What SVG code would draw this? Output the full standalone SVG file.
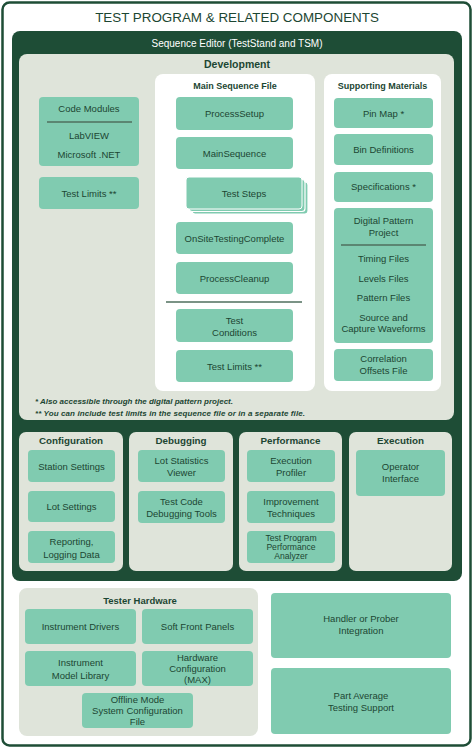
<svg xmlns="http://www.w3.org/2000/svg" width="474" height="750" viewBox="0 0 474 750">
<defs>
<style>
text{font-family:"Liberation Sans",Arial,sans-serif;fill:#1c4632;text-anchor:middle}
.t{font-size:9.5px}
.h{font-size:9.5px;font-weight:bold}
.box{fill:#80cbb0}
.panel{fill:#dfe4da}
.white{fill:#ffffff}
.sep{stroke:#4f6f5e;stroke-width:1.5}
.fn{font-size:8px;font-weight:bold;font-style:italic;text-anchor:start}
</style>
</defs>
<rect x="0" y="0" width="474" height="750" fill="#ffffff"/>
<g id="frame">
<rect x="2.5" y="2.5" width="468" height="743" rx="7" fill="#ffffff" stroke="#1e4d36" stroke-width="2.5"/>
<text x="237" y="22" style="font-size:13.4px">TEST PROGRAM &amp; RELATED COMPONENTS</text>
</g>
<g id="sequence-editor">
<rect x="12" y="31" width="450" height="550" rx="8" fill="#1e4d36"/>
<text x="237" y="46.5" style="font-size:10px;fill:#ffffff">Sequence Editor (TestStand and TSM)</text>
</g>
<g id="development">
<rect class="panel" x="19" y="54" width="435" height="366" rx="8"/>
<text class="h" x="237" y="68" style="font-size:10.5px">Development</text>
<text class="fn" x="35" y="404">* Also accessible through the digital pattern project.</text>
<text class="fn" x="35" y="416" textLength="270" lengthAdjust="spacing">** You can include test limits in the sequence file or in a separate file.</text>
</g>
<g id="code-modules">
<rect class="box" x="39" y="97" width="100" height="69" rx="4"/>
<text class="t" x="89" y="112">Code Modules</text>
<line class="sep" x1="47" y1="122" x2="132" y2="122"/>
<text class="t" x="89" y="139">LabVIEW</text>
<text class="t" x="89" y="158">Microsoft .NET</text>
</g>
<g id="test-limits-dev">
<rect class="box" x="39" y="177" width="100" height="32" rx="4"/>
<text class="t" x="89" y="196.5">Test Limits **</text>
</g>
<g id="main-sequence-file">
<rect class="white" x="155" y="74" width="160" height="317" rx="8"/>
<text class="h" x="235" y="89" style="font-size:9px">Main Sequence File</text>
<line class="sep" x1="166" y1="302" x2="302" y2="302"/>
</g>
<g id="process-setup">
<rect class="box" x="176" y="97" width="117" height="33" rx="4"/>
<text class="t" x="234.5" y="116.5">ProcessSetup</text>
</g>
<g id="main-sequence">
<rect class="box" x="176" y="137" width="117" height="32" rx="4"/>
<text class="t" x="234.5" y="156.5">MainSequence</text>
</g>
<g id="test-steps">
<rect class="box" x="192" y="182" width="116" height="32" rx="3" stroke="#ffffff" stroke-width="1.2"/>
<rect class="box" x="189" y="179.5" width="116" height="32" rx="3" stroke="#ffffff" stroke-width="1.2"/>
<rect class="box" x="186" y="177" width="116" height="32" rx="3" stroke="#ffffff" stroke-width="1"/>
<text class="t" x="244" y="196.5">Test Steps</text>
</g>
<g id="onsite-testing-complete">
<rect class="box" x="176" y="222" width="117" height="32" rx="4"/>
<text class="t" x="234.5" y="241.5">OnSiteTestingComplete</text>
</g>
<g id="process-cleanup">
<rect class="box" x="176" y="262" width="117" height="32" rx="4"/>
<text class="t" x="234.5" y="281.5">ProcessCleanup</text>
</g>
<g id="test-conditions">
<rect class="box" x="176" y="309" width="117" height="33" rx="4"/>
<text class="t" x="234.5" y="323.5">Test</text>
<text class="t" x="234.5" y="335.5">Conditions</text>
</g>
<g id="test-limits-seq">
<rect class="box" x="176" y="350" width="117" height="32" rx="4"/>
<text class="t" x="234.5" y="369.5">Test Limits **</text>
</g>
<g id="supporting-materials">
<rect class="white" x="324" y="74" width="117" height="317" rx="8"/>
<text class="h" x="382.5" y="89" style="font-size:9px">Supporting Materials</text>
</g>
<g id="pin-map">
<rect class="box" x="334" y="98" width="99" height="30" rx="4"/>
<text class="t" x="383.5" y="116.5">Pin Map *</text>
</g>
<g id="bin-definitions">
<rect class="box" x="334" y="134" width="99" height="31" rx="4"/>
<text class="t" x="383.5" y="152.5">Bin Definitions</text>
</g>
<g id="specifications">
<rect class="box" x="334" y="172" width="99" height="30" rx="4"/>
<text class="t" x="383.5" y="189.5">Specifications *</text>
</g>
<g id="digital-pattern-project">
<rect class="box" x="334" y="208" width="99" height="135" rx="4"/>
<text class="t" x="383.5" y="223.5">Digital Pattern</text>
<text class="t" x="383.5" y="235.5">Project</text>
<line class="sep" x1="341" y1="245" x2="426" y2="245"/>
<text class="t" x="383.5" y="261.5">Timing Files</text>
<text class="t" x="383.5" y="281.5">Levels Files</text>
<text class="t" x="383.5" y="300.5">Pattern Files</text>
<text class="t" x="383.5" y="320.5">Source and</text>
<text class="t" x="383.5" y="331.5">Capture Waveforms</text>
</g>
<g id="correlation-offsets">
<rect class="box" x="334" y="349" width="99" height="32" rx="4"/>
<text class="t" x="383.5" y="361.5">Correlation</text>
<text class="t" x="383.5" y="373.5">Offsets File</text>
</g>
<g id="configuration">
<rect class="panel" x="19" y="432" width="104" height="139" rx="7"/>
<text class="h" x="71" y="443.5" style="font-size:9.8px">Configuration</text>
</g>
<g id="station-settings">
<rect class="box" x="28" y="450" width="87" height="32" rx="4"/>
<text class="t" x="71.5" y="469.5">Station Settings</text>
</g>
<g id="lot-settings">
<rect class="box" x="28" y="491" width="87" height="31" rx="4"/>
<text class="t" x="71.5" y="510">Lot Settings</text>
</g>
<g id="reporting-logging">
<rect class="box" x="28" y="531" width="87" height="32" rx="4"/>
<text class="t" x="71.5" y="544.5">Reporting,</text>
<text class="t" x="71.5" y="558">Logging Data</text>
</g>
<g id="debugging">
<rect class="panel" x="129" y="432" width="104" height="139" rx="7"/>
<text class="h" x="181" y="443.5" style="font-size:9.8px">Debugging</text>
</g>
<g id="lot-statistics-viewer">
<rect class="box" x="138" y="450" width="87" height="32" rx="4"/>
<text class="t" x="181.5" y="463.5">Lot Statistics</text>
<text class="t" x="181.5" y="475.5">Viewer</text>
</g>
<g id="test-code-debugging">
<rect class="box" x="138" y="491" width="87" height="32" rx="4"/>
<text class="t" x="181.5" y="504.5">Test Code</text>
<text class="t" x="181.5" y="516.5">Debugging Tools</text>
</g>
<g id="performance">
<rect class="panel" x="239" y="432" width="103" height="139" rx="7"/>
<text class="h" x="290.5" y="443.5" style="font-size:9.8px">Performance</text>
</g>
<g id="execution-profiler">
<rect class="box" x="247" y="450" width="88" height="32" rx="4"/>
<text class="t" x="291" y="463.5">Execution</text>
<text class="t" x="291" y="475.5">Profiler</text>
</g>
<g id="improvement-techniques">
<rect class="box" x="247" y="491" width="88" height="32" rx="4"/>
<text class="t" x="291" y="504.5">Improvement</text>
<text class="t" x="291" y="516.5">Techniques</text>
</g>
<g id="performance-analyzer">
<rect class="box" x="247" y="531" width="88" height="32" rx="4"/>
<text class="t" x="291" y="540.8" style="font-size:8.6px">Test Program</text>
<text class="t" x="291" y="550.1" style="font-size:8.6px">Performance</text>
<text class="t" x="291" y="559.4" style="font-size:8.6px">Analyzer</text>
</g>
<g id="execution">
<rect class="panel" x="349" y="432" width="103" height="139" rx="7"/>
<text class="h" x="400.5" y="443.5" style="font-size:9.8px">Execution</text>
</g>
<g id="operator-interface">
<rect class="box" x="356" y="450" width="89" height="46" rx="4"/>
<text class="t" x="400.5" y="469.5">Operator</text>
<text class="t" x="400.5" y="481.5">Interface</text>
</g>
<g id="tester-hardware">
<rect class="panel" x="19" y="588" width="239" height="148" rx="8"/>
<text class="h" x="140" y="603.5">Tester Hardware</text>
</g>
<g id="instrument-drivers">
<rect class="box" x="25" y="609" width="111" height="35" rx="4"/>
<text class="t" x="80.5" y="629.5">Instrument Drivers</text>
</g>
<g id="soft-front-panels">
<rect class="box" x="142" y="609" width="111" height="35" rx="4"/>
<text class="t" x="197.5" y="629.5">Soft Front Panels</text>
</g>
<g id="instrument-model-library">
<rect class="box" x="25" y="651" width="111" height="35" rx="4"/>
<text class="t" x="80.5" y="665.5">Instrument</text>
<text class="t" x="80.5" y="678.5">Model Library</text>
</g>
<g id="hardware-configuration">
<rect class="box" x="142" y="651" width="111" height="35" rx="4"/>
<text class="t" x="197.5" y="660.5">Hardware</text>
<text class="t" x="197.5" y="671.5">Configuration</text>
<text class="t" x="197.5" y="682.5">(MAX)</text>
</g>
<g id="offline-mode">
<rect class="box" x="82" y="693" width="111" height="35" rx="4"/>
<text class="t" x="137.5" y="702.5">Offline Mode</text>
<text class="t" x="137.5" y="713.5">System Configuration</text>
<text class="t" x="137.5" y="725">File</text>
</g>
<g id="handler-prober">
<rect class="box" x="271" y="593" width="180" height="65" rx="4"/>
<text class="t" x="361" y="621.5">Handler or Prober</text>
<text class="t" x="361" y="634">Integration</text>
</g>
<g id="part-average-testing">
<rect class="box" x="271" y="668" width="180" height="66" rx="4"/>
<text class="t" x="361" y="698.5">Part Average</text>
<text class="t" x="361" y="710.5">Testing Support</text>
</g>
</svg>
